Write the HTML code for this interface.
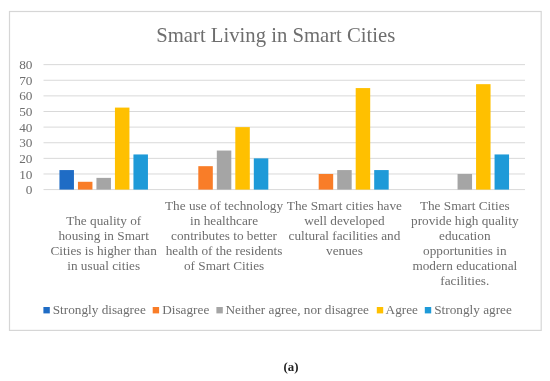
<!DOCTYPE html>
<html><head><meta charset="utf-8"><title>Smart Living in Smart Cities</title>
<style>
html,body{margin:0;padding:0;background:#fff;}
body{width:550px;height:381px;overflow:hidden;}
svg{display:block}
text{font-family:"Liberation Serif","Times New Roman",serif;fill:#6e6e6e;}
.ax{font-size:13.25px}
.cat{font-size:13.25px}
.leg{font-size:13.25px}
.title{font-size:20.7px}
.cap{font-size:12.8px;fill:#222;font-weight:bold}
</style></head><body>
<svg width="550" height="381" viewBox="0 0 550 381">
<rect width="550" height="381" fill="#fff"/>
<rect x="9.5" y="11.5" width="531.7" height="318.9" fill="#fff" stroke="#d6d6d6" stroke-width="1.2"/>
<line x1="43.5" x2="525.0" y1="189.60" y2="189.60" stroke="#d9d9d9" stroke-width="1"/>
<text x="32.4" y="194.20" text-anchor="end" class="ax">0</text>
<line x1="43.5" x2="525.0" y1="173.98" y2="173.98" stroke="#d9d9d9" stroke-width="1"/>
<text x="32.4" y="178.58" text-anchor="end" class="ax">10</text>
<line x1="43.5" x2="525.0" y1="158.36" y2="158.36" stroke="#d9d9d9" stroke-width="1"/>
<text x="32.4" y="162.96" text-anchor="end" class="ax">20</text>
<line x1="43.5" x2="525.0" y1="142.74" y2="142.74" stroke="#d9d9d9" stroke-width="1"/>
<text x="32.4" y="147.34" text-anchor="end" class="ax">30</text>
<line x1="43.5" x2="525.0" y1="127.12" y2="127.12" stroke="#d9d9d9" stroke-width="1"/>
<text x="32.4" y="131.72" text-anchor="end" class="ax">40</text>
<line x1="43.5" x2="525.0" y1="111.50" y2="111.50" stroke="#d9d9d9" stroke-width="1"/>
<text x="32.4" y="116.10" text-anchor="end" class="ax">50</text>
<line x1="43.5" x2="525.0" y1="95.88" y2="95.88" stroke="#d9d9d9" stroke-width="1"/>
<text x="32.4" y="100.48" text-anchor="end" class="ax">60</text>
<line x1="43.5" x2="525.0" y1="80.26" y2="80.26" stroke="#d9d9d9" stroke-width="1"/>
<text x="32.4" y="84.86" text-anchor="end" class="ax">70</text>
<line x1="43.5" x2="525.0" y1="64.64" y2="64.64" stroke="#d9d9d9" stroke-width="1"/>
<text x="32.4" y="69.24" text-anchor="end" class="ax">80</text>
<rect x="59.44" y="170.07" width="14.5" height="19.52" fill="#1f6cc5"/>
<rect x="77.94" y="181.79" width="14.5" height="7.81" fill="#f97d28"/>
<rect x="96.44" y="177.88" width="14.5" height="11.71" fill="#a5a5a5"/>
<rect x="114.94" y="107.59" width="14.5" height="82.00" fill="#ffc000"/>
<rect x="133.44" y="154.45" width="14.5" height="35.14" fill="#1e9ad8"/>
<rect x="198.31" y="166.17" width="14.5" height="23.43" fill="#f97d28"/>
<rect x="216.81" y="150.55" width="14.5" height="39.05" fill="#a5a5a5"/>
<rect x="235.31" y="127.12" width="14.5" height="62.48" fill="#ffc000"/>
<rect x="253.81" y="158.36" width="14.5" height="31.24" fill="#1e9ad8"/>
<rect x="318.69" y="173.98" width="14.5" height="15.62" fill="#f97d28"/>
<rect x="337.19" y="170.07" width="14.5" height="19.52" fill="#a5a5a5"/>
<rect x="355.69" y="88.07" width="14.5" height="101.53" fill="#ffc000"/>
<rect x="374.19" y="170.07" width="14.5" height="19.52" fill="#1e9ad8"/>
<rect x="457.56" y="173.98" width="14.5" height="15.62" fill="#a5a5a5"/>
<rect x="476.06" y="84.17" width="14.5" height="105.43" fill="#ffc000"/>
<rect x="494.56" y="154.45" width="14.5" height="35.14" fill="#1e9ad8"/>
<text x="103.69" y="225.00" text-anchor="middle" class="cat">The quality of</text>
<text x="103.69" y="240.10" text-anchor="middle" class="cat">housing in Smart</text>
<text x="103.69" y="255.20" text-anchor="middle" class="cat">Cities is higher than</text>
<text x="103.69" y="270.30" text-anchor="middle" class="cat">in usual cities</text>
<text x="224.06" y="209.80" text-anchor="middle" class="cat">The use of technology</text>
<text x="224.06" y="224.90" text-anchor="middle" class="cat">in healthcare</text>
<text x="224.06" y="240.00" text-anchor="middle" class="cat">contributes to better</text>
<text x="224.06" y="255.10" text-anchor="middle" class="cat">health of the residents</text>
<text x="224.06" y="270.20" text-anchor="middle" class="cat">of Smart Cities</text>
<text x="344.44" y="209.80" text-anchor="middle" class="cat">The Smart cities have</text>
<text x="344.44" y="224.90" text-anchor="middle" class="cat">well developed</text>
<text x="344.44" y="240.00" text-anchor="middle" class="cat">cultural facilities and</text>
<text x="344.44" y="255.10" text-anchor="middle" class="cat">venues</text>
<text x="464.81" y="209.80" text-anchor="middle" class="cat">The Smart Cities</text>
<text x="464.81" y="224.90" text-anchor="middle" class="cat">provide high quality</text>
<text x="464.81" y="240.00" text-anchor="middle" class="cat">education</text>
<text x="464.81" y="255.10" text-anchor="middle" class="cat">opportunities in</text>
<text x="464.81" y="270.20" text-anchor="middle" class="cat">modern educational</text>
<text x="464.81" y="285.30" text-anchor="middle" class="cat">facilities.</text>
<text x="275.8" y="41.9" text-anchor="middle" class="title">Smart Living in Smart Cities</text>
<rect x="43.4" y="307.0" width="6.4" height="6.4" fill="#1f6cc5"/>
<text x="52.70" y="314.3" class="leg">Strongly disagree</text>
<rect x="152.7" y="307.0" width="6.4" height="6.4" fill="#f97d28"/>
<text x="162.20" y="314.3" class="leg">Disagree</text>
<rect x="216.4" y="307.0" width="6.4" height="6.4" fill="#a5a5a5"/>
<text x="225.50" y="314.3" class="leg">Neither agree, nor disagree</text>
<rect x="376.8" y="307.0" width="6.4" height="6.4" fill="#ffc000"/>
<text x="385.60" y="314.3" class="leg">Agree</text>
<rect x="424.8" y="307.0" width="6.4" height="6.4" fill="#1e9ad8"/>
<text x="434.20" y="314.3" class="leg">Strongly agree</text>
<text x="283.6" y="371" class="cap">(a)</text>
</svg>
</body></html>
